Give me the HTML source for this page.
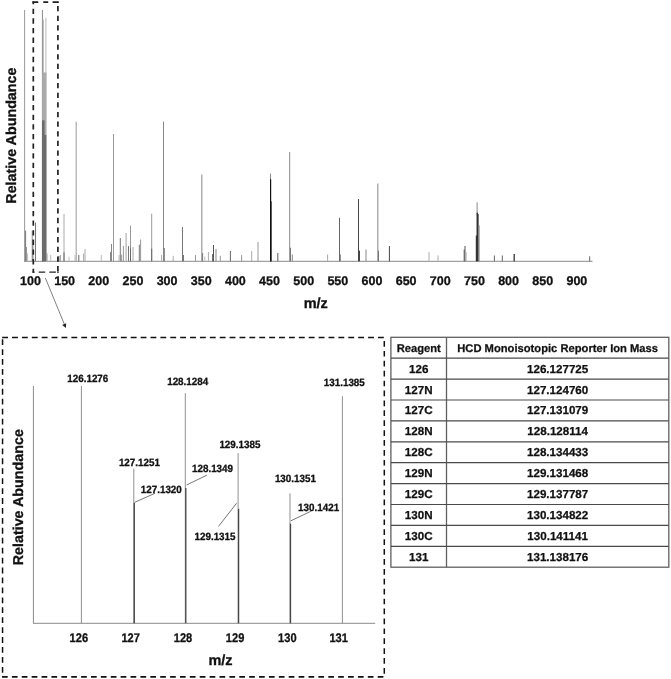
<!DOCTYPE html>
<html lang="en">
<head>
<meta charset="utf-8">
<title>TMT reporter ion spectrum</title>
<style>
html,body{margin:0;padding:0;background:#fff;}
body{width:671px;height:679px;overflow:hidden;}
svg{display:block;}
text{font-family:"Liberation Sans",Arial,sans-serif;font-weight:bold;fill:#111;stroke:#111;stroke-width:0.3px;text-rendering:geometricPrecision;}
.tk{font-size:12.5px;text-anchor:middle;}
.pk{font-size:10.5px;text-anchor:middle;}
.ax{font-size:14.5px;text-anchor:middle;}
.tb{font-size:11.2px;text-anchor:middle;stroke-width:0.25px;}
.tn{font-size:11.6px;}
</style>
</head>
<body>
<svg width="671" height="679" viewBox="0 0 671 679">
<rect x="0" y="0" width="671" height="679" fill="#ffffff"/>

<!-- top spectrum -->
<g fill="none">
<line x1="24.6" y1="10" x2="24.6" y2="261.3" stroke="#999" stroke-width="1"/>
<line x1="24" y1="261.3" x2="592.5" y2="261.3" stroke="#8a8a8a" stroke-width="1"/>
<line x1="25.6" y1="230.7" x2="25.6" y2="261.3" stroke="#777" stroke-width="1"/>
<line x1="26.5" y1="247" x2="26.5" y2="261.3" stroke="#999" stroke-width="1"/>
<line x1="27.6" y1="253.5" x2="27.6" y2="261.3" stroke="#bbb" stroke-width="1"/>
<line x1="32.2" y1="230.7" x2="32.2" y2="261.3" stroke="#999" stroke-width="1"/>
<line x1="32.9" y1="239" x2="32.9" y2="261.3" stroke="#777" stroke-width="1"/>
<line x1="35.5" y1="222.6" x2="35.5" y2="261.3" stroke="#777" stroke-width="1"/>
<line x1="47.0" y1="253.5" x2="47.0" y2="261.3" stroke="#999" stroke-width="1"/>
<line x1="50.7" y1="255" x2="50.7" y2="261.3" stroke="#bbb" stroke-width="1"/>
<line x1="58.9" y1="256" x2="58.9" y2="261.3" stroke="#777" stroke-width="1"/>
<line x1="60.3" y1="255" x2="60.3" y2="261.3" stroke="#999" stroke-width="1"/>
<line x1="64.0" y1="214" x2="64.0" y2="261.3" stroke="#aaa" stroke-width="1"/>
<line x1="64.0" y1="252.3" x2="64.0" y2="261.3" stroke="#666" stroke-width="1"/>
<line x1="69" y1="256.8" x2="69" y2="261.3" stroke="#bbb" stroke-width="1"/>
<line x1="75" y1="255" x2="75" y2="261.3" stroke="#bbb" stroke-width="1"/>
<line x1="76.2" y1="121.8" x2="76.2" y2="261.3" stroke="#aaa" stroke-width="1.2"/>
<line x1="78.8" y1="255" x2="78.8" y2="261.3" stroke="#666" stroke-width="1"/>
<line x1="83.6" y1="253.5" x2="83.6" y2="261.3" stroke="#aaa" stroke-width="1"/>
<line x1="85" y1="249" x2="85" y2="261.3" stroke="#aaa" stroke-width="1"/>
<line x1="101.3" y1="255" x2="101.3" y2="261.3" stroke="#bbb" stroke-width="1"/>
<line x1="110.5" y1="252" x2="110.5" y2="261.3" stroke="#888" stroke-width="1"/>
<line x1="111.5" y1="244" x2="111.5" y2="261.3" stroke="#888" stroke-width="1"/>
<line x1="113.5" y1="134" x2="113.5" y2="261.3" stroke="#999" stroke-width="1"/>
<line x1="119" y1="255" x2="119" y2="261.3" stroke="#bbb" stroke-width="1"/>
<line x1="120.3" y1="238" x2="120.3" y2="261.3" stroke="#777" stroke-width="1"/>
<line x1="121.6" y1="254.7" x2="121.6" y2="261.3" stroke="#999" stroke-width="1"/>
<line x1="123.4" y1="246" x2="123.4" y2="261.3" stroke="#999" stroke-width="1"/>
<line x1="126.1" y1="233" x2="126.1" y2="261.3" stroke="#b4b4b4" stroke-width="1.2"/>
<line x1="128.5" y1="246" x2="128.5" y2="261.3" stroke="#777" stroke-width="1"/>
<line x1="130.5" y1="225.6" x2="130.5" y2="261.3" stroke="#999" stroke-width="1"/>
<line x1="130.5" y1="248.7" x2="130.5" y2="261.3" stroke="#666" stroke-width="1"/>
<line x1="133" y1="247" x2="133" y2="261.3" stroke="#aaa" stroke-width="1"/>
<line x1="139.3" y1="244.6" x2="139.3" y2="261.3" stroke="#777" stroke-width="1"/>
<line x1="140.6" y1="239.5" x2="140.6" y2="261.3" stroke="#999" stroke-width="1"/>
<line x1="151.7" y1="213.7" x2="151.7" y2="261.3" stroke="#999" stroke-width="1"/>
<line x1="151.7" y1="248.7" x2="151.7" y2="261.3" stroke="#666" stroke-width="1"/>
<line x1="161.6" y1="255" x2="161.6" y2="261.3" stroke="#aaa" stroke-width="1"/>
<line x1="163.5" y1="121.5" x2="163.5" y2="261.3" stroke="#888" stroke-width="1"/>
<line x1="164.3" y1="248" x2="164.3" y2="261.3" stroke="#777" stroke-width="1"/>
<line x1="173.2" y1="255.8" x2="173.2" y2="261.3" stroke="#aaa" stroke-width="1"/>
<line x1="182.5" y1="227" x2="182.5" y2="261.3" stroke="#777" stroke-width="1"/>
<line x1="183.5" y1="255" x2="183.5" y2="261.3" stroke="#777" stroke-width="1"/>
<line x1="195.5" y1="255" x2="195.5" y2="261.3" stroke="#999" stroke-width="1"/>
<line x1="201.8" y1="174.5" x2="201.8" y2="261.3" stroke="#999" stroke-width="1.2"/>
<line x1="202.6" y1="253" x2="202.6" y2="261.3" stroke="#777" stroke-width="1"/>
<line x1="204.8" y1="256.5" x2="204.8" y2="261.3" stroke="#bbb" stroke-width="1"/>
<line x1="208.4" y1="252" x2="208.4" y2="261.3" stroke="#aaa" stroke-width="1"/>
<line x1="212.7" y1="254" x2="212.7" y2="261.3" stroke="#555" stroke-width="1"/>
<line x1="213.5" y1="245" x2="213.5" y2="261.3" stroke="#555" stroke-width="1"/>
<line x1="216" y1="249" x2="216" y2="261.3" stroke="#888" stroke-width="1"/>
<line x1="220.3" y1="255.8" x2="220.3" y2="261.3" stroke="#999" stroke-width="1"/>
<line x1="230.4" y1="251" x2="230.4" y2="261.3" stroke="#666" stroke-width="1"/>
<line x1="241.6" y1="255" x2="241.6" y2="261.3" stroke="#999" stroke-width="1"/>
<line x1="251.7" y1="251" x2="251.7" y2="261.3" stroke="#aaa" stroke-width="1"/>
<line x1="258" y1="242" x2="258" y2="261.3" stroke="#999" stroke-width="1"/>
<line x1="277.8" y1="253" x2="277.8" y2="261.3" stroke="#777" stroke-width="1.2"/>
<line x1="289.7" y1="152" x2="289.7" y2="261.3" stroke="#888" stroke-width="1"/>
<line x1="290.5" y1="247.7" x2="290.5" y2="261.3" stroke="#777" stroke-width="1"/>
<line x1="292.3" y1="254.5" x2="292.3" y2="261.3" stroke="#888" stroke-width="1"/>
<line x1="327.6" y1="254.5" x2="327.6" y2="261.3" stroke="#aaa" stroke-width="1"/>
<line x1="339.5" y1="217.8" x2="339.5" y2="261.3" stroke="#666" stroke-width="1"/>
<line x1="340.3" y1="254.5" x2="340.3" y2="261.3" stroke="#777" stroke-width="1"/>
<line x1="358.5" y1="199" x2="358.5" y2="261.3" stroke="#444" stroke-width="1"/>
<line x1="359.5" y1="250.7" x2="359.5" y2="261.3" stroke="#444" stroke-width="1"/>
<line x1="366" y1="249.5" x2="366" y2="261.3" stroke="#888" stroke-width="1"/>
<line x1="377.8" y1="183.6" x2="377.8" y2="261.3" stroke="#999" stroke-width="1.2"/>
<line x1="378.5" y1="250.7" x2="378.5" y2="261.3" stroke="#777" stroke-width="1"/>
<line x1="389.4" y1="246" x2="389.4" y2="261.3" stroke="#444" stroke-width="1"/>
<line x1="429" y1="252" x2="429" y2="261.3" stroke="#bbb" stroke-width="1.2"/>
<line x1="438" y1="255.5" x2="438" y2="261.3" stroke="#bbb" stroke-width="1.2"/>
<line x1="464.2" y1="249.5" x2="464.2" y2="261.3" stroke="#555" stroke-width="1"/>
<line x1="465" y1="246" x2="465" y2="261.3" stroke="#555" stroke-width="1"/>
<line x1="466.2" y1="252" x2="466.2" y2="261.3" stroke="#bbb" stroke-width="1"/>
<line x1="494.4" y1="255.5" x2="494.4" y2="261.3" stroke="#666" stroke-width="1"/>
<line x1="502.3" y1="255.5" x2="502.3" y2="261.3" stroke="#666" stroke-width="1"/>
<line x1="514.2" y1="254" x2="514.2" y2="261.3" stroke="#333" stroke-width="1.3"/>
<line x1="589.7" y1="256.3" x2="589.7" y2="261.3" stroke="#666" stroke-width="1"/>
</g>
<g>
<rect x="41.9" y="10" width="1" height="251.3" fill="#8c8c8c"/>
<rect x="42.9" y="19.7" width="1" height="241.60000000000002" fill="#bababa"/>
<rect x="45.4" y="17.9" width="1" height="243.4" fill="#bababa"/>
<rect x="42.2" y="72.5" width="4.2" height="188.8" fill="#aaa"/>
<rect x="42.0" y="120.3" width="2.6" height="141.0" fill="#6c6c6c"/>
<rect x="42.0" y="135" width="4.3" height="126.30000000000001" fill="#6c6c6c"/>
<rect x="270.0" y="173.7" width="1" height="8" fill="#888"/>
<rect x="270.0" y="179.3" width="1.2" height="82.0" fill="#111"/>
<rect x="270.0" y="201.3" width="1.6" height="60.0" fill="#111"/>
<rect x="475.8" y="235.5" width="1" height="25.80000000000001" fill="#222"/>
<rect x="476.6" y="202.4" width="1" height="12" fill="#888"/>
<rect x="476.6" y="212.7" width="1.2" height="48.60000000000002" fill="#111"/>
<rect x="477.6" y="214" width="1" height="47.30000000000001" fill="#222"/>
<rect x="478.6" y="225.4" width="1" height="35.900000000000006" fill="#888"/>
</g>
<g fill="none" stroke="#222" stroke-width="1.7">
<path d="M32.5 2.2H38.3M43.3 2.2H48.2M52.6 2.2H58.8"/>
<line x1="33.3" y1="1.35" x2="33.3" y2="272.85" stroke-dasharray="5.3 4.33" stroke-dashoffset="2.28"/>
<line x1="57.9" y1="6.0" x2="57.9" y2="272.85" stroke-dasharray="5.3 4.33"/>
<path d="M32.5 272.1H34.6M38.7 272.1H45.2M49.3 272.1H55.9M57 272.1H58.8" stroke-width="1.35"/>
</g>
<line x1="45.4" y1="278.1" x2="64.7" y2="325.1" stroke="#555" stroke-width="0.75"/>
<polygon points="65.9,328 62.2,324.9 66.2,323.2" fill="#222"/>
<text class="ax" transform="translate(16.4,135.6) rotate(-90)" style="font-size:14.3px">Relative Abundance</text>
<text class="tk" x="30.50" y="284.65">100</text>
<text class="tk" x="64.65" y="284.65">150</text>
<text class="tk" x="98.80" y="284.65">200</text>
<text class="tk" x="132.95" y="284.65">250</text>
<text class="tk" x="167.10" y="284.65">300</text>
<text class="tk" x="201.25" y="284.65">350</text>
<text class="tk" x="235.40" y="284.65">400</text>
<text class="tk" x="269.55" y="284.65">450</text>
<text class="tk" x="303.70" y="284.65">500</text>
<text class="tk" x="337.85" y="284.65">550</text>
<text class="tk" x="372.00" y="284.65">600</text>
<text class="tk" x="406.15" y="284.65">650</text>
<text class="tk" x="440.30" y="284.65">700</text>
<text class="tk" x="474.45" y="284.65">750</text>
<text class="tk" x="508.60" y="284.65">800</text>
<text class="tk" x="542.75" y="284.65">850</text>
<text class="tk" x="576.90" y="284.65">900</text>
<text class="ax" x="315.8" y="307.6">m/z</text>
<!-- zoomed reporter ion panel -->
<g fill="none" stroke="#111" stroke-width="1.5">
<line x1="2.15" y1="337.45" x2="385.05" y2="337.45" stroke-dasharray="5.85 4.04"/>
<line x1="2.55" y1="338.2" x2="2.55" y2="676" stroke-dasharray="5.8 4.13" stroke-dashoffset="-1"/>
<line x1="384.3" y1="338.2" x2="384.3" y2="676" stroke-dasharray="5.7 4.21" stroke-dashoffset="-2.8"/>
<line x1="2.0" y1="676.85" x2="384" y2="676.85" stroke-width="1.8" stroke-dasharray="5.7 4.187"/>
</g>
<line x1="33.4" y1="386" x2="33.4" y2="623.3" stroke="#8a8a8a" stroke-width="1"/>
<line x1="33" y1="623.3" x2="375.2" y2="623.3" stroke="#8a8a8a" stroke-width="1"/>
<line x1="81.4" y1="386" x2="81.4" y2="623.3" stroke="#909090" stroke-width="1"/>
<line x1="133.8" y1="468.6" x2="133.8" y2="623.3" stroke="#909090" stroke-width="1"/>
<line x1="134.3" y1="502.8" x2="134.3" y2="623.3" stroke="#484848" stroke-width="1.3"/>
<line x1="185.3" y1="393.2" x2="185.3" y2="623.3" stroke="#909090" stroke-width="1"/>
<line x1="185.8" y1="488" x2="185.8" y2="623.3" stroke="#484848" stroke-width="1.3"/>
<line x1="238.1" y1="453.1" x2="238.1" y2="623.3" stroke="#909090" stroke-width="1"/>
<line x1="238.6" y1="508.8" x2="238.6" y2="623.3" stroke="#484848" stroke-width="1.3"/>
<line x1="290" y1="493.3" x2="290" y2="623.3" stroke="#909090" stroke-width="1"/>
<line x1="290.5" y1="523.7" x2="290.5" y2="623.3" stroke="#484848" stroke-width="1.3"/>
<line x1="342.4" y1="396.2" x2="342.4" y2="623.3" stroke="#909090" stroke-width="1"/>
<line x1="134.7" y1="502.3" x2="155" y2="493.3" stroke="#666" stroke-width="0.9"/>
<line x1="186.6" y1="485" x2="206.8" y2="475.2" stroke="#666" stroke-width="0.9"/>
<line x1="236.6" y1="503.2" x2="218.5" y2="526.4" stroke="#666" stroke-width="0.9"/>
<line x1="290.9" y1="520.8" x2="311.1" y2="511.2" stroke="#666" stroke-width="0.9"/>
<text class="pk" x="87.8" y="382.4" textLength="41" lengthAdjust="spacingAndGlyphs">126.1276</text>
<text class="pk" x="139.4" y="466.2" textLength="41" lengthAdjust="spacingAndGlyphs">127.1251</text>
<text class="pk" x="161.3" y="493.3" textLength="41" lengthAdjust="spacingAndGlyphs">127.1320</text>
<text class="pk" x="187.7" y="384.9" textLength="41" lengthAdjust="spacingAndGlyphs">128.1284</text>
<text class="pk" x="212.5" y="472.0" textLength="41" lengthAdjust="spacingAndGlyphs">128.1349</text>
<text class="pk" x="239.9" y="448.3" textLength="41" lengthAdjust="spacingAndGlyphs">129.1385</text>
<text class="pk" x="215" y="539.5" textLength="41" lengthAdjust="spacingAndGlyphs">129.1315</text>
<text class="pk" x="295.4" y="481.9" textLength="41" lengthAdjust="spacingAndGlyphs">130.1351</text>
<text class="pk" x="318.6" y="510.8" textLength="41" lengthAdjust="spacingAndGlyphs">130.1421</text>
<text class="pk" x="344.3" y="386.2" textLength="41" lengthAdjust="spacingAndGlyphs">131.1385</text>
<text class="tk" x="78.8" y="642.3" textLength="18.5" lengthAdjust="spacingAndGlyphs">126</text>
<text class="tk" x="130.7" y="642.3" textLength="18.5" lengthAdjust="spacingAndGlyphs">127</text>
<text class="tk" x="183" y="642.3" textLength="18.5" lengthAdjust="spacingAndGlyphs">128</text>
<text class="tk" x="235.1" y="642.3" textLength="18.5" lengthAdjust="spacingAndGlyphs">129</text>
<text class="tk" x="287.3" y="642.3" textLength="18.5" lengthAdjust="spacingAndGlyphs">130</text>
<text class="tk" x="338.7" y="642.3" textLength="18.5" lengthAdjust="spacingAndGlyphs">131</text>
<text class="ax" x="220.5" y="665.3">m/z</text>
<text class="ax" transform="translate(23.3,497.2) rotate(-90)" style="font-size:14.3px">Relative Abundance</text>
<!-- reagent table -->
<rect x="390.9" y="337.3" width="277.9" height="229.9" fill="#fff" stroke="#606060" stroke-width="1.3"/>
<line x1="446.5" y1="337.3" x2="446.5" y2="567.2" stroke="#606060" stroke-width="1.3"/>
<line x1="390.9" y1="358.20" x2="668.8" y2="358.20" stroke="#4a4a4a" stroke-width="1.2"/>
<line x1="390.9" y1="379.10" x2="668.8" y2="379.10" stroke="#4a4a4a" stroke-width="1.2"/>
<line x1="390.9" y1="400.00" x2="668.8" y2="400.00" stroke="#4a4a4a" stroke-width="1.2"/>
<line x1="390.9" y1="420.90" x2="668.8" y2="420.90" stroke="#4a4a4a" stroke-width="1.2"/>
<line x1="390.9" y1="441.80" x2="668.8" y2="441.80" stroke="#4a4a4a" stroke-width="1.2"/>
<line x1="390.9" y1="462.70" x2="668.8" y2="462.70" stroke="#4a4a4a" stroke-width="1.2"/>
<line x1="390.9" y1="483.60" x2="668.8" y2="483.60" stroke="#4a4a4a" stroke-width="1.2"/>
<line x1="390.9" y1="504.50" x2="668.8" y2="504.50" stroke="#4a4a4a" stroke-width="1.2"/>
<line x1="390.9" y1="525.40" x2="668.8" y2="525.40" stroke="#4a4a4a" stroke-width="1.2"/>
<line x1="390.9" y1="546.30" x2="668.8" y2="546.30" stroke="#4a4a4a" stroke-width="1.2"/>
<text class="tb" x="418.70" y="351.73">Reagent</text>
<text class="tb" x="557.65" y="351.73">HCD Monoisotopic Reporter Ion Mass</text>
<text class="tb tn" x="418.70" y="372.63">126</text>
<text class="tb tn" x="557.65" y="372.63">126.127725</text>
<text class="tb tn" x="418.70" y="393.53">127N</text>
<text class="tb tn" x="557.65" y="393.53">127.124760</text>
<text class="tb tn" x="418.70" y="414.43">127C</text>
<text class="tb tn" x="557.65" y="414.43">127.131079</text>
<text class="tb tn" x="418.70" y="435.33">128N</text>
<text class="tb tn" x="557.65" y="435.33">128.128114</text>
<text class="tb tn" x="418.70" y="456.23">128C</text>
<text class="tb tn" x="557.65" y="456.23">128.134433</text>
<text class="tb tn" x="418.70" y="477.13">129N</text>
<text class="tb tn" x="557.65" y="477.13">129.131468</text>
<text class="tb tn" x="418.70" y="498.03">129C</text>
<text class="tb tn" x="557.65" y="498.03">129.137787</text>
<text class="tb tn" x="418.70" y="518.93">130N</text>
<text class="tb tn" x="557.65" y="518.93">130.134822</text>
<text class="tb tn" x="418.70" y="539.83">130C</text>
<text class="tb tn" x="557.65" y="539.83">130.141141</text>
<text class="tb tn" x="418.70" y="560.73">131</text>
<text class="tb tn" x="557.65" y="560.73">131.138176</text>
</svg>
</body>
</html>
